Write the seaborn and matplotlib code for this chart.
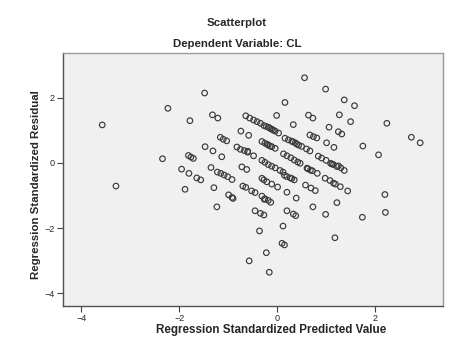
import pandas as pd
import matplotlib
matplotlib.use("Agg")
import matplotlib.pyplot as plt
import seaborn as sns

# Regression standardized predicted value (x) and residual (y)
pred = [
    -3.57, -3.29, -2.23, -2.34, -1.48, -1.78, -1.32, -1.21, -1.16, -1.10, -1.03,
    -1.47, -1.31, -1.13, -1.81, -1.76, -1.71, -1.95, -1.80, -1.64, -1.56, -1.88,
    -1.35, -1.22, -1.15, -1.08, -1.01, -0.92, -1.29, -0.99, -0.92, -0.90, -1.23,
    -0.74, -0.58, -0.82, -0.75, -0.67, -0.60, -0.48, -0.72, -0.62, -0.70, -0.64,
    -0.52, -0.45, -0.45, -0.34, -0.27, -0.36, -0.57,
    -0.64, -0.56, -0.48, -0.41, -0.34, -0.27, -0.18, -0.11, -0.04, 0.03, -0.01,
    0.16, 0.33, 0.64, 0.73, 0.67, 0.74, 0.81, 0.16, 0.23, 0.30, 0.37, 0.44, 0.50,
    0.60, 0.67, 0.84, 0.91, 1.00, 1.09, 1.15, 1.22, 1.30, 1.37,
    -0.31, -0.25, -0.18, -0.11, -0.04, 0.13, 0.20, 0.28, 0.35, 0.42, 0.47, 0.61,
    0.68, 0.82, 0.98, 1.08, 1.15, 1.19, 1.29, 1.44,
    -0.31, -0.25, -0.18, -0.11, -0.04, 0.06, 0.12, 0.20, 0.27, 0.35, 0.58, 0.69,
    0.78, 1.22, 2.20, 2.21, 1.74, 0.99, 0.73,
    -0.31, -0.27, -0.21, -0.11, 0.01, 0.20, 0.39,
    -0.31, -0.25, -0.18, -0.13, 0.20, 0.33, 0.38, 0.12, 0.10, 0.15, -0.22, -0.16,
    1.18,
    0.56, 0.99, 1.37, 1.58, 1.27, 1.50, 1.06, 1.25, 1.32, 2.24, 2.74, 2.92, 1.75,
    2.07, 1.01, 1.16,
    # overlapping cases in the darker clusters
    -0.15, -0.08, -0.22, 0.32, 0.40, -0.14, -0.20, 0.15, 1.12, 1.25, -0.60,
    0.63, 0.72, 0.30, -0.26,
]
resid = [
    1.17, -0.71, 1.68, 0.13, 2.15, 1.30, 1.48, 1.38, 0.79, 0.73, 0.68,
    0.50, 0.37, 0.19, 0.23, 0.18, 0.14, -0.19, -0.32, -0.46, -0.52, -0.81,
    -0.14, -0.28, -0.32, -0.37, -0.42, -0.51, -0.76, -0.98, -1.06, -1.09, -1.35,
    0.98, 0.85, 0.49, 0.42, 0.38, 0.33, 0.22, -0.12, -0.20, -0.71, -0.75,
    -0.86, -0.91, -1.47, -1.55, -1.60, -2.09, -3.01,
    1.45, 1.38, 1.32, 1.27, 1.22, 1.15, 1.10, 1.04, 0.98, 0.92, 1.46,
    1.86, 1.18, 1.47, 1.38, 0.86, 0.81, 0.77, 0.76, 0.71, 0.67, 0.62, 0.55, 0.51,
    0.43, 0.37, 0.21, 0.15, 0.08, -0.01, -0.05, -0.11, -0.15, -0.23,
    0.66, 0.61, 0.55, 0.50, 0.45, 0.28, 0.22, 0.16, 0.09, 0.03, -0.01, -0.16,
    -0.22, -0.32, -0.47, -0.54, -0.62, -0.65, -0.73, -0.86,
    0.08, 0.02, -0.05, -0.10, -0.15, -0.23, -0.28, -0.42, -0.46, -0.52, -0.68, -0.77,
    -0.85, -1.22, -0.97, -1.52, -1.67, -1.58, -1.35,
    -0.47, -0.52, -0.58, -0.65, -0.74, -0.90, -1.08,
    -1.02, -1.10, -1.15, -1.21, -1.47, -1.57, -1.62, -1.94, -2.47, -2.52, -2.76, -3.36,
    -2.30,
    2.62, 2.27, 1.94, 1.76, 1.48, 1.27, 1.10, 0.96, 0.89, 1.22, 0.79, 0.62, 0.52,
    0.25, 0.62, 0.48,
    1.07, 1.01, 1.12, 0.65, 0.58, 0.52, 0.57, -0.38, -0.03, -0.09, 0.36,
    -0.18, -0.24, -0.48, -1.12,
]

x_ticks = [-4, -2, 0, 2]
y_ticks = [-4, -2, 0, 2]

df = pd.DataFrame({"pred": pred, "resid": resid})

sns.set_style("white")
plt.rcParams['font.family'] = ['Liberation Sans', 'DejaVu Sans']

fig = plt.figure(figsize=(4.74, 3.51), dpi=100, facecolor='white')
ax = fig.add_axes([0.133, 0.128, 0.802, 0.72])
ax.set_facecolor('#F0F0F0')

sns.scatterplot(data=df, x='pred', y='resid', ax=ax, marker='o', s=16,
                facecolor='none', edgecolor='#3A3A3A', linewidth=0.85)

ax.set_xlim(-4.37, 3.39)
ax.set_ylim(-4.4, 3.37)
ax.set_xticks(x_ticks)
ax.set_yticks(y_ticks)
ax.tick_params(direction='out', length=4, width=0.8, color='#404040',
               labelsize=6.5, bottom=True, left=True, pad=2)
ax.set_xlabel('')
ax.set_ylabel('')

for side in ['left', 'bottom']:
    ax.spines[side].set_color('#505050')
    ax.spines[side].set_linewidth(1.0)
for side in ['top', 'right']:
    ax.spines[side].set_color('#999999')
    ax.spines[side].set_linewidth(1.0)

fig.text(0.5, 0.934, 'Scatterplot', ha='center', va='center',
         fontsize=8.2, fontweight='bold')
fig.text(0.5, 0.875, 'Dependent Variable: CL', ha='center', va='center',
         fontsize=8.2, fontweight='bold')
fig.text(0.572, 0.06, 'Regression Standardized Predicted Value', ha='center',
         va='center', fontsize=8.4, fontweight='bold')
fig.text(0.077, 0.473, 'Regression Standardized Residual', ha='center',
         va='center', rotation=90, fontsize=8.2, fontweight='bold')

plt.savefig('out.png', dpi=100)
